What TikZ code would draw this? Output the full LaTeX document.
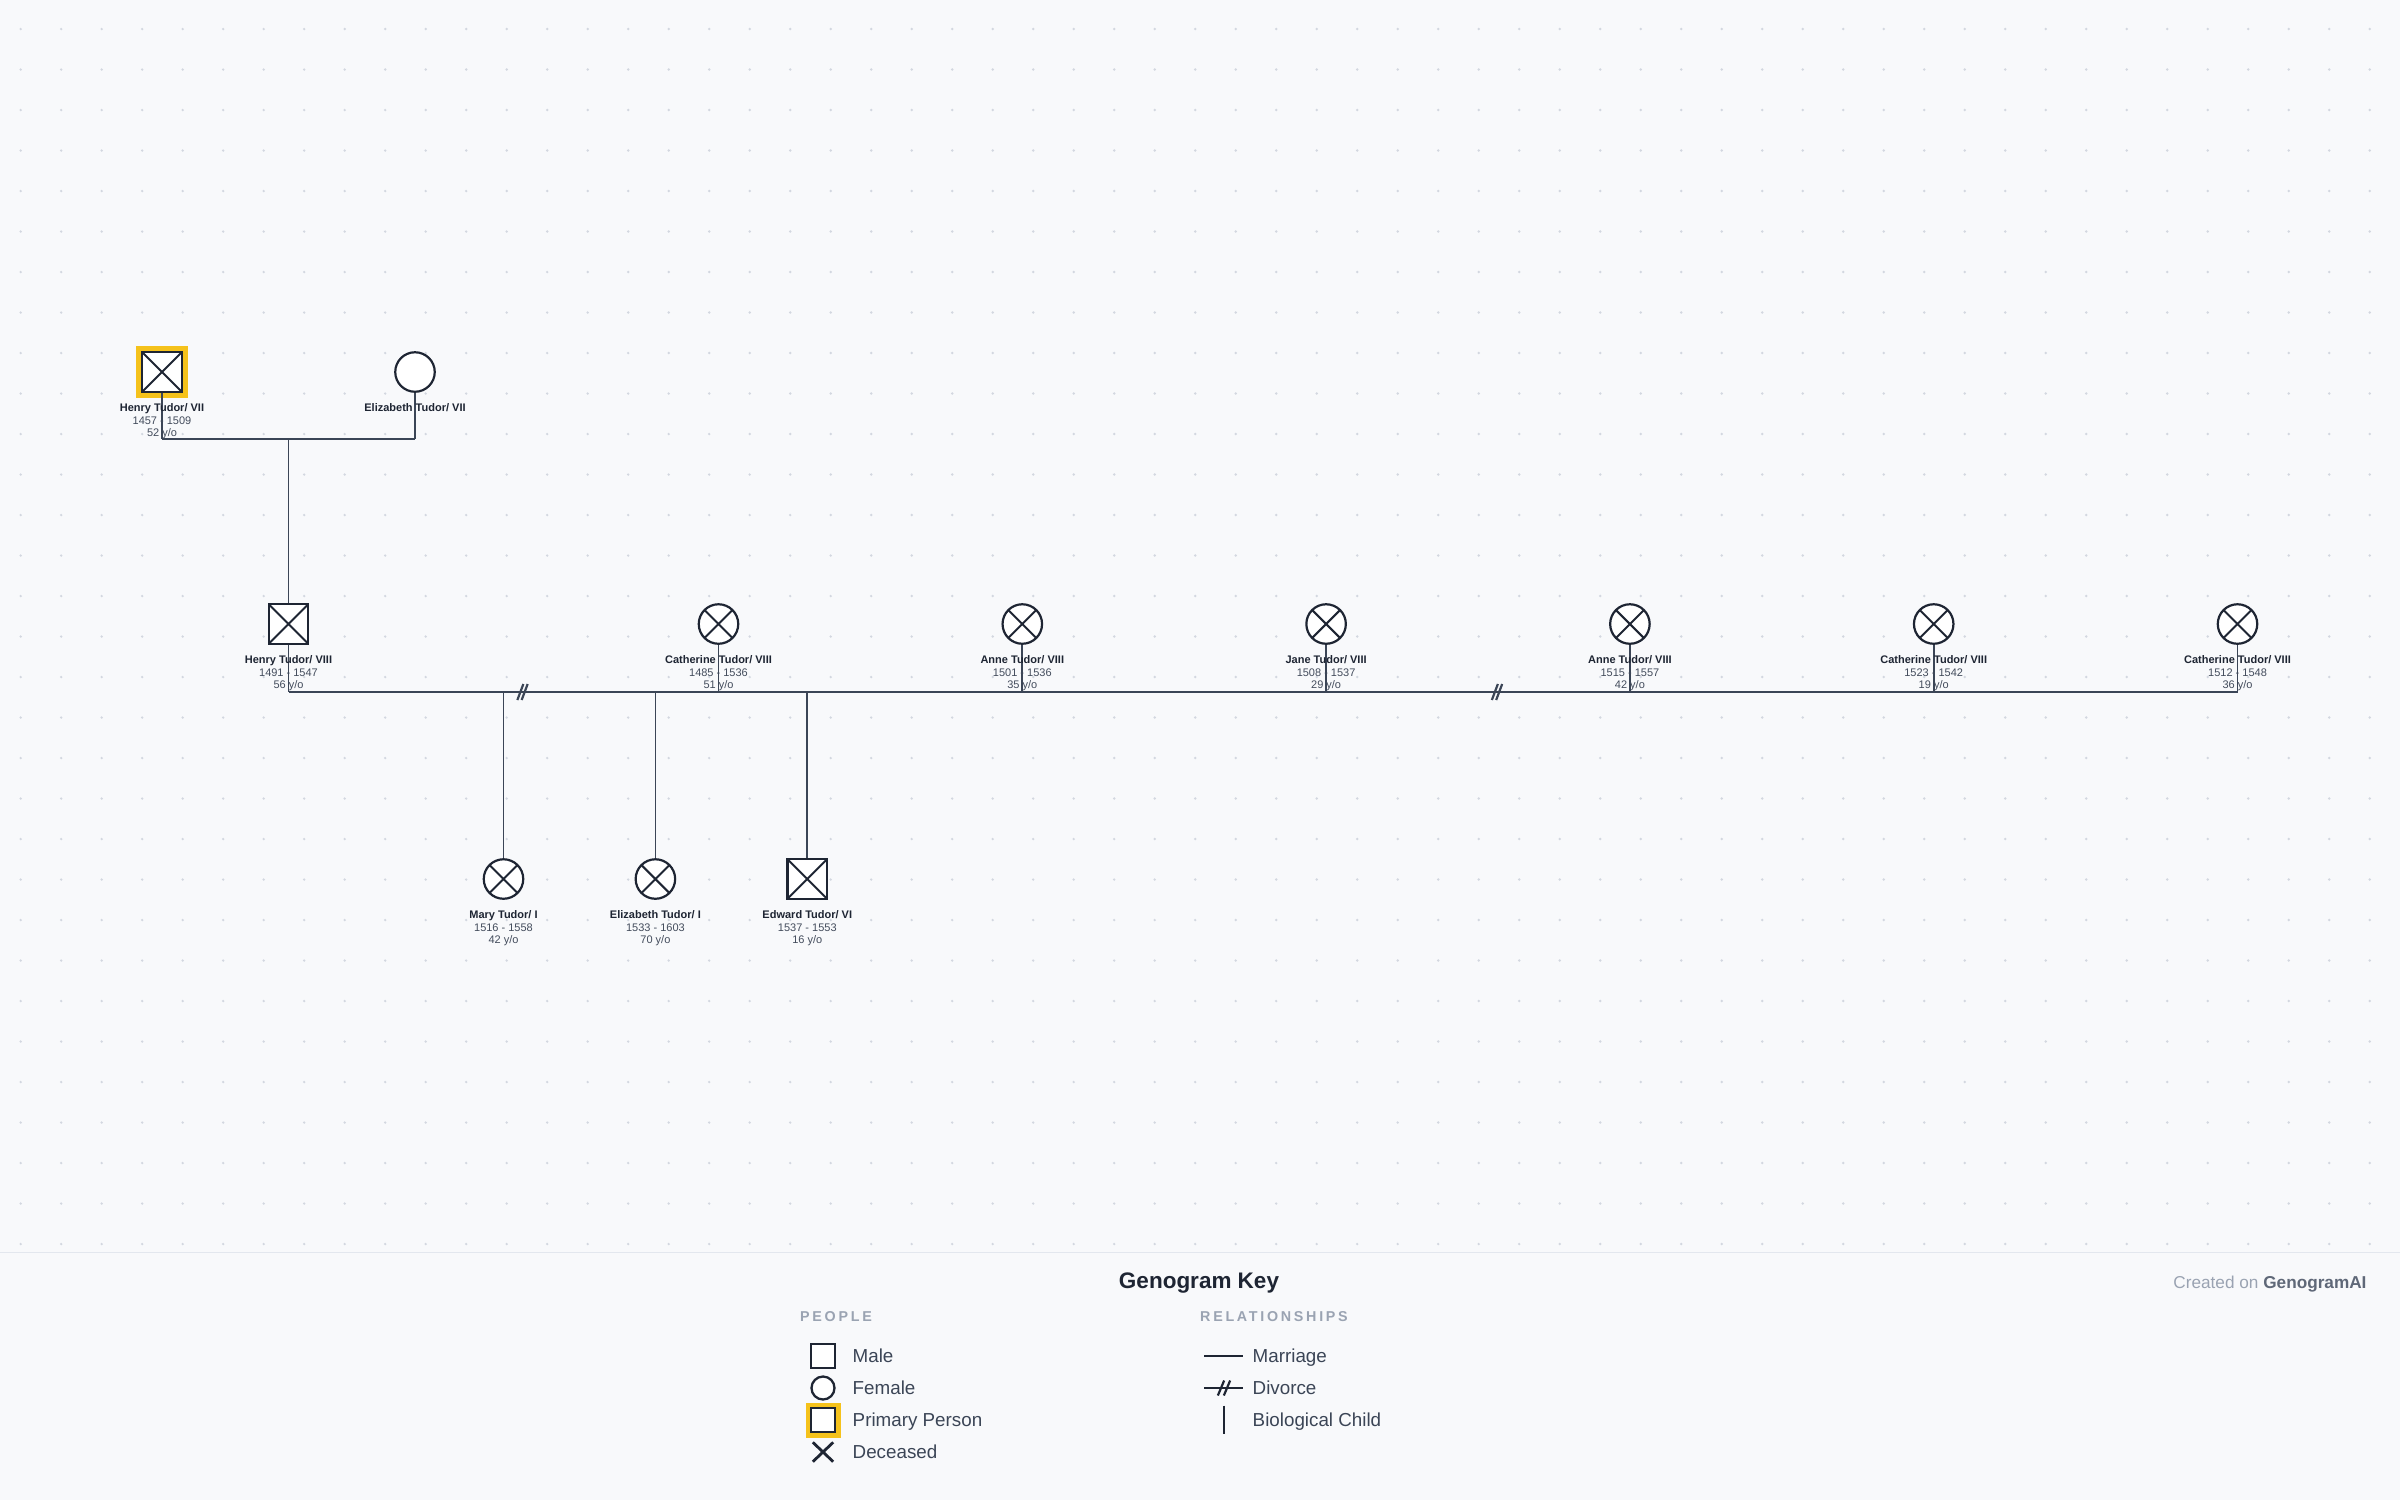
\documentclass[tikz,border=0pt]{standalone}
\usepackage{fontspec}
\setmainfont{Liberation Sans}
\newfontfamily\spacedfont[LetterSpace=19]{Liberation Sans}
\usetikzlibrary{calc}
\definecolor{bgc}{HTML}{F8F9FB}
\definecolor{dotc}{HTML}{D3D7E0}
\definecolor{ink}{HTML}{1E2533}
\definecolor{linec}{HTML}{3B4556}
\definecolor{childc}{HTML}{3B4556}
\definecolor{datec}{HTML}{434C5C}
\definecolor{gold}{HTML}{F5C21B}
\definecolor{headc}{HTML}{9AA3B2}
\definecolor{credc}{HTML}{5F6878}
\definecolor{sepc}{HTML}{E3E7EE}
\definecolor{legc}{HTML}{3B4556}
\newcommand\plabels[4]{%
  \node[namet] (#1n) at ($(#1.center)+(0,39.5)$) {#2};
  \node[datet] (#1d) at ($(#1.center)+(0,52.3)$) {#3};
  \node[datet] (#1a) at ($(#1.center)+(0,64.7)$) {#4};}
\newcommand\divmark[1]{%
  \draw[divl] ($(#1)+(-5.15,8)$) -- ($(#1)+(0.85,-8)$)
              ($(#1)+(-0.85,8)$) -- ($(#1)+(5.15,-8)$);}
\begin{document}
\begin{tikzpicture}[x=1pt,y=-1pt,
  person/.style={draw=ink, line width=2.2pt, fill=white, inner sep=0pt, minimum size=39.5pt},
  male/.style={person, rectangle},
  female/.style={person, circle},
  dead/.style={path picture={\draw[ink, line width=2pt]
     (path picture bounding box.north west) -- (path picture bounding box.south east)
     (path picture bounding box.north east) -- (path picture bounding box.south west);}},
  rel/.style={draw=linec, line width=2.2pt},
  drop/.style={draw=linec, line width=1.8pt},
  childline/.style={draw=childc, line width=1.8pt},
  divl/.style={draw=linec, line width=2.2pt},
  namet/.style={font=\bfseries\fontsize{11}{13}\selectfont, text=ink, inner sep=0pt, anchor=base},
  datet/.style={font=\fontsize{11}{13}\selectfont, text=datec, inner sep=0pt, anchor=base},
  legt/.style={font=\fontsize{18.8}{22}\selectfont, text=legc, inner sep=0pt, anchor=base west},
  headt/.style={font=\spacedfont\bfseries\fontsize{14.3}{17}\selectfont, text=headc, inner sep=0pt, anchor=base west},
  lsym/.style={draw=ink, line width=2.3pt, fill=white, inner sep=0pt}
]
\useasboundingbox (0,0) rectangle (2400,1500);
\fill[bgc] (0,0) rectangle (2400,1500);
% dot grid
\foreach \i in {0,...,58}{\foreach \j in {0,...,30}{\fill[dotc] (20.7+40.5*\i,29+40.5*\j) circle (1.3pt);}}
% footer separator
\draw[sepc, line width=1.5pt] (0,1252.3) -- (2400,1252.3);

% people
\node[fill=gold, inner sep=0pt, minimum size=52pt] (h7bg) at (162,372) {};
\node[male,dead] (h7) at (162,372) {};
\node[female] (e7) at (415,372) {};
\node[male,dead] (h8) at (288.5,624) {};
\node[female,dead] (w1) at (718.5,624) {};
\node[female,dead] (w2) at (1022.3,624) {};
\node[female,dead] (w3) at (1326.1,624) {};
\node[female,dead] (w4) at (1629.9,624) {};
\node[female,dead] (w5) at (1933.7,624) {};
\node[female,dead] (w6) at (2237.5,624) {};

% marriage coordinates
\coordinate (m7) at ($(h7)!0.5!(e7)+(0,67)$);
\coordinate (mline) at ($(h8)+(0,68)$);
\coordinate (c1) at ($(h8)!0.5!(w1)+(0,68)$);
\coordinate (c2) at ($(h8)!0.5!(w2)+(0,68)$);
\coordinate (c3) at ($(h8)!0.5!(w3)+(0,68)$);
\coordinate (d1) at (522.5,692);
\coordinate (d2) at (1497,692);

\node[female,dead] (mary) at (c1 |- 0,879) {};
\node[female,dead] (eliz) at (c2 |- 0,879) {};
\node[male,dead] (edw) at (c3 |- 0,879) {};

% connectors
\draw[drop] (h7.south) -- (h7.south |- m7);
\draw[drop] (e7.south) -- (e7.south |- m7);
\draw[rel] (h7.south |- m7) -- (e7.south |- m7);
\draw[childline] (m7) -- (h8.north);
\draw[rel] (h8.south |- mline) -- (w6.south |- mline);
\foreach \w in {h8,w1,w2,w3,w4,w5,w6}{\draw[drop] (\w.south) -- (\w.south |- mline);}
\draw[childline] (c1) -- (mary.north);
\draw[childline] (c2) -- (eliz.north);
\draw[childline] (c3) -- (edw.north);
\divmark{d1}
\divmark{d2}

% labels
\plabels{h7}{Henry Tudor/ VII}{1457 - 1509}{52 y/o}
\node[namet] (e7n) at ($(e7.center)+(0,39.5)$) {Elizabeth Tudor/ VII};
\plabels{h8}{Henry Tudor/ VIII}{1491 - 1547}{56 y/o}
\plabels{w1}{Catherine Tudor/ VIII}{1485 - 1536}{51 y/o}
\plabels{w2}{Anne Tudor/ VIII}{1501 - 1536}{35 y/o}
\plabels{w3}{Jane Tudor/ VIII}{1508 - 1537}{29 y/o}
\plabels{w4}{Anne Tudor/ VIII}{1515 - 1557}{42 y/o}
\plabels{w5}{Catherine Tudor/ VIII}{1523 - 1542}{19 y/o}
\plabels{w6}{Catherine Tudor/ VIII}{1512 - 1548}{36 y/o}
\plabels{mary}{Mary Tudor/ I}{1516 - 1558}{42 y/o}
\plabels{eliz}{Elizabeth Tudor/ I}{1533 - 1603}{70 y/o}
\plabels{edw}{Edward Tudor/ VI}{1537 - 1553}{16 y/o}

% legend
\node[font=\bfseries\fontsize{22.5}{26}\selectfont, text=ink, inner sep=0pt, anchor=base] (title) at (1199,1288) {Genogram Key};
\node[anchor=base east, inner sep=0pt, font=\fontsize{17.2}{20}\selectfont] (cred) at (2366.7,1288.3)
  {\textcolor{headc}{Created on }\textcolor{credc}{\bfseries GenogramAI}};
\node[headt] (ppl) at (800,1321.7) {PEOPLE};
\node[headt] (rels) at (1200,1321.7) {RELATIONSHIPS};

\node[lsym, minimum size=24pt] (lgm) at (823,1356) {};
\node[lsym, circle, minimum size=23pt] (lgf) at (823,1388) {};
\node[fill=gold, inner sep=0pt, minimum size=35pt] (lgpb) at (823,1420) {};
\node[lsym, minimum size=24pt] (lgp) at (823,1420) {};
\node[inner sep=0pt, minimum width=20pt, minimum height=19pt] (lgd) at (823,1452) {};
\draw[ink, line width=2.8pt] (lgd.north west) -- (lgd.south east) (lgd.north east) -- (lgd.south west);
\node[legt] (lgmt) at (852.5,1362.3) {Male};
\node[legt] (lgft) at (852.5,1394.2) {Female};
\node[legt] (lgpt) at (852.5,1426.2) {Primary Person};
\node[legt] (lgdt) at (852.5,1458.2) {Deceased};

\coordinate (lma) at (1204,1356); \coordinate (lmb) at (1243,1356);
\draw[ink, line width=2.4pt] (lma) -- (lmb);
\coordinate (lda) at (1204,1388); \coordinate (ldb) at (1243,1388); \coordinate (ldc) at (1224,1388);
\draw[ink, line width=2.4pt] (lda) -- (ldb);
\draw[ink, line width=2.2pt] ($(ldc)+(-6.15,7.5)$) -- ($(ldc)+(0.15,-7.5)$) ($(ldc)+(-0.15,7.5)$) -- ($(ldc)+(6.15,-7.5)$);
\coordinate (lca) at (1224,1405.5); \coordinate (lcb) at (1224,1433.5);
\draw[ink, line width=2.4pt] (lca) -- (lcb);
\node[legt] (lmt) at (1252.5,1362.3) {Marriage};
\node[legt] (ldt) at (1252.5,1394.2) {Divorce};
\node[legt] (lct) at (1252.5,1426.2) {Biological Child};
\end{tikzpicture}
\end{document}
